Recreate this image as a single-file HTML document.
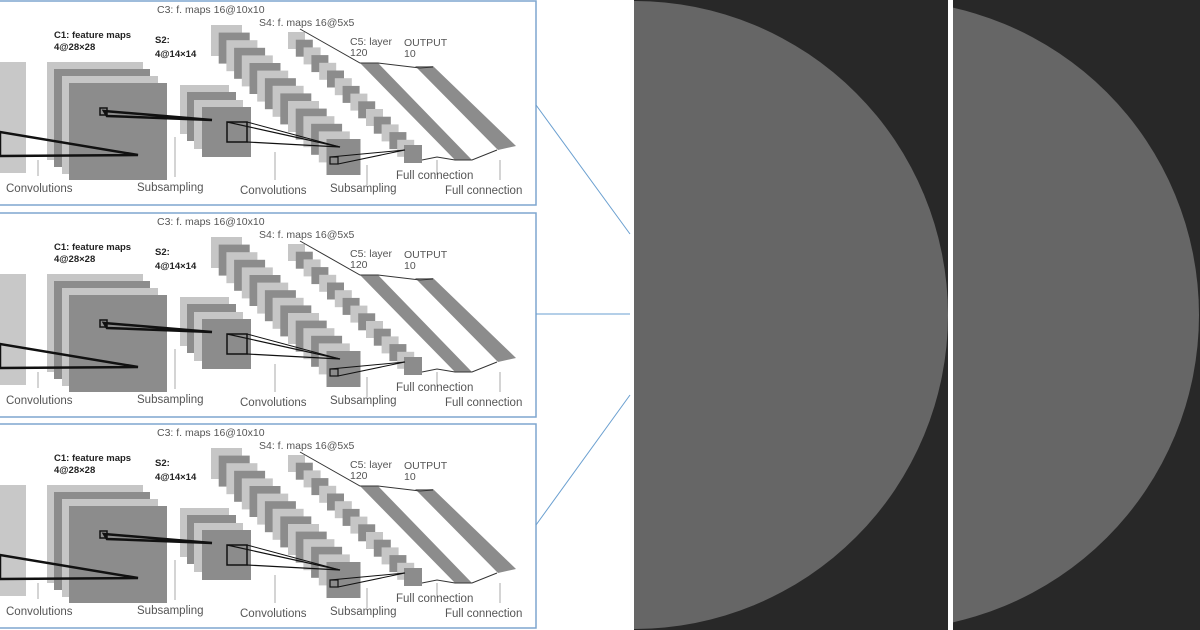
<!DOCTYPE html>
<html><head><meta charset="utf-8"><style>
html,body{margin:0;padding:0;background:#fff;}
svg{display:block;}
text{font-family:"Liberation Sans",sans-serif;fill:#555;}
.b{font-weight:bold;fill:#222;font-size:9.5px;}
.s{font-size:10.5px;}
.l{font-size:11.5px;}
</style></head><body>
<svg width="1200" height="630" viewBox="0 0 1200 630" xmlns="http://www.w3.org/2000/svg">
<defs>
<g id="net">
  <rect x="0" y="62" width="26" height="111" fill="#c8c8c8"/>
  <rect x="47" y="62" width="96" height="98" fill="#c6c6c6"/>
  <rect x="54" y="69" width="96" height="98" fill="#8c8c8c"/>
  <rect x="62" y="76" width="96" height="98" fill="#c6c6c6"/>
  <rect x="69" y="83" width="98" height="97" fill="#8c8c8c"/>
  <rect x="180" y="85" width="49" height="49" fill="#c6c6c6"/>
  <rect x="187" y="92" width="49" height="49" fill="#8c8c8c"/>
  <rect x="194" y="100" width="49" height="49" fill="#c6c6c6"/>
  <rect x="202" y="107" width="49" height="50" fill="#8c8c8c"/>
  <g>
  <rect x="211" y="25" width="31" height="31" fill="#c6c6c6"/>
  <rect x="218.7" y="32.6" width="31" height="31" fill="#8c8c8c"/>
  <rect x="226.4" y="40.2" width="31" height="31" fill="#c6c6c6"/>
  <rect x="234.1" y="47.8" width="31" height="31" fill="#8c8c8c"/>
  <rect x="241.8" y="55.4" width="31" height="31" fill="#c6c6c6"/>
  <rect x="249.5" y="63" width="31" height="31" fill="#8c8c8c"/>
  <rect x="257.2" y="70.6" width="31" height="31" fill="#c6c6c6"/>
  <rect x="264.9" y="78.2" width="31" height="31" fill="#8c8c8c"/>
  <rect x="272.6" y="85.8" width="31" height="31" fill="#c6c6c6"/>
  <rect x="280.3" y="93.4" width="31" height="31" fill="#8c8c8c"/>
  <rect x="288" y="101" width="31" height="31" fill="#c6c6c6"/>
  <rect x="295.7" y="108.6" width="31" height="31" fill="#8c8c8c"/>
  <rect x="303.4" y="116.2" width="31" height="31" fill="#c6c6c6"/>
  <rect x="311.1" y="123.8" width="31" height="31" fill="#8c8c8c"/>
  <rect x="318.8" y="131.4" width="31" height="31" fill="#c6c6c6"/>
  <rect x="326.5" y="139" width="34" height="36" fill="#8c8c8c"/>
  </g>
  <g>
  <rect x="288" y="32" width="17" height="17" fill="#c6c6c6"/>
  <rect x="295.8" y="39.7" width="17" height="17" fill="#8c8c8c"/>
  <rect x="303.6" y="47.4" width="17" height="17" fill="#c6c6c6"/>
  <rect x="311.4" y="55.1" width="17" height="17" fill="#8c8c8c"/>
  <rect x="319.2" y="62.8" width="17" height="17" fill="#c6c6c6"/>
  <rect x="327" y="70.5" width="17" height="17" fill="#8c8c8c"/>
  <rect x="334.8" y="78.2" width="17" height="17" fill="#c6c6c6"/>
  <rect x="342.6" y="85.9" width="17" height="17" fill="#8c8c8c"/>
  <rect x="350.4" y="93.6" width="17" height="17" fill="#c6c6c6"/>
  <rect x="358.2" y="101.3" width="17" height="17" fill="#8c8c8c"/>
  <rect x="366" y="109" width="17" height="17" fill="#c6c6c6"/>
  <rect x="373.8" y="116.7" width="17" height="17" fill="#8c8c8c"/>
  <rect x="381.6" y="124.4" width="17" height="17" fill="#c6c6c6"/>
  <rect x="389.4" y="132.1" width="17" height="17" fill="#8c8c8c"/>
  <rect x="397.2" y="139.8" width="17" height="17" fill="#c6c6c6"/>
  <rect x="404" y="145" width="18" height="18" fill="#8c8c8c"/>
  </g>
  <polygon points="360,63 378,63 472,160 455,160" fill="#8c8c8c"/>
  <polygon points="415,66 433,66 516,146 498,150" fill="#8c8c8c"/>
  <polyline points="300,29 360,63 378,63 420,68 433,67" fill="none" stroke="#333" stroke-width="1"/>
  <polyline points="422,160 437,157 455,160 472,160 497,150" fill="none" stroke="#333" stroke-width="1"/>
  <polygon points="0,132 0,156 138,155" fill="none" stroke="#111" stroke-width="2.5"/>
  <rect x="100" y="108" width="7" height="7" fill="none" stroke="#111" stroke-width="1.5"/>
  <polygon points="104,111 212,120 107,116" fill="none" stroke="#111" stroke-width="2.5"/>
  <rect x="227" y="122" width="20" height="20" fill="none" stroke="#111" stroke-width="1.5"/>
  <polyline points="227,122 340,147 247,142" fill="none" stroke="#111" stroke-width="1.2"/>
  <line x1="247" y1="122" x2="340" y2="147" stroke="#111" stroke-width="1"/>
  <rect x="330" y="157" width="8" height="7" fill="none" stroke="#111" stroke-width="1.2"/>
  <polyline points="330,157 405,150 338,164" fill="none" stroke="#111" stroke-width="1"/>
  <g stroke="#aaa" stroke-width="1">
  <line x1="38" y1="160" x2="38" y2="176"/>
  <line x1="175" y1="137" x2="175" y2="177"/>
  <line x1="275" y1="152" x2="275" y2="180"/>
  <line x1="367" y1="165" x2="367" y2="185"/>
  <line x1="437" y1="160" x2="437" y2="175"/>
  <line x1="500" y1="160" x2="500" y2="180"/>
  </g>
  <rect x="-1" y="1" width="537" height="204" fill="none" stroke="#7ea6cf" stroke-width="1.5"/>
</g>
</defs>
<rect x="0" y="0" width="1200" height="630" fill="#fff"/>
<use href="#net" x="0" y="0"/>
<use href="#net" x="0" y="212"/>
<use href="#net" x="0" y="423"/>

<g>
<text class="b" x="54" y="38">C1: feature maps</text><text class="b" x="54" y="50">4@28×28</text>
<text class="b" x="155" y="43">S2:</text><text class="b" x="155" y="57">4@14×14</text>
<text class="s" x="157" y="13">C3: f. maps 16@10x10</text>
<text class="s" x="259" y="26">S4: f. maps 16@5x5</text>
<text class="s" x="350" y="45">C5: layer</text><text class="s" x="350" y="56">120</text>
<text class="s" x="404" y="46">OUTPUT</text><text class="s" x="404" y="57">10</text>
<text class="l" x="6" y="192">Convolutions</text>
<text class="l" x="137" y="191">Subsampling</text>
<text class="l" x="240" y="194">Convolutions</text>
<text class="l" x="330" y="192">Subsampling</text>
<text class="l" x="396" y="179">Full connection</text>
<text class="l" x="445" y="194">Full connection</text>
</g>
<g transform="translate(0,212)">
<text class="b" x="54" y="38">C1: feature maps</text><text class="b" x="54" y="50">4@28×28</text>
<text class="b" x="155" y="43">S2:</text><text class="b" x="155" y="57">4@14×14</text>
<text class="s" x="157" y="13">C3: f. maps 16@10x10</text>
<text class="s" x="259" y="26">S4: f. maps 16@5x5</text>
<text class="s" x="350" y="45">C5: layer</text><text class="s" x="350" y="56">120</text>
<text class="s" x="404" y="46">OUTPUT</text><text class="s" x="404" y="57">10</text>
<text class="l" x="6" y="192">Convolutions</text>
<text class="l" x="137" y="191">Subsampling</text>
<text class="l" x="240" y="194">Convolutions</text>
<text class="l" x="330" y="192">Subsampling</text>
<text class="l" x="396" y="179">Full connection</text>
<text class="l" x="445" y="194">Full connection</text>
</g>
<g transform="translate(0,423)">
<text class="b" x="54" y="38">C1: feature maps</text><text class="b" x="54" y="50">4@28×28</text>
<text class="b" x="155" y="43">S2:</text><text class="b" x="155" y="57">4@14×14</text>
<text class="s" x="157" y="13">C3: f. maps 16@10x10</text>
<text class="s" x="259" y="26">S4: f. maps 16@5x5</text>
<text class="s" x="350" y="45">C5: layer</text><text class="s" x="350" y="56">120</text>
<text class="s" x="404" y="46">OUTPUT</text><text class="s" x="404" y="57">10</text>
<text class="l" x="6" y="192">Convolutions</text>
<text class="l" x="137" y="191">Subsampling</text>
<text class="l" x="240" y="194">Convolutions</text>
<text class="l" x="330" y="192">Subsampling</text>
<text class="l" x="396" y="179">Full connection</text>
<text class="l" x="445" y="194">Full connection</text>
</g>

<g stroke="#6a9fd0" stroke-width="1" fill="none">
<line x1="536" y1="105" x2="630" y2="234"/>
<line x1="536" y1="314" x2="630" y2="314"/>
<line x1="536" y1="525" x2="630" y2="395"/>
</g>

<rect x="634" y="0" width="314" height="630" fill="#282828"/>
<clipPath id="c1"><rect x="634" y="0" width="314" height="630"/></clipPath>
<ellipse cx="634" cy="315" rx="314" ry="314" fill="#666" clip-path="url(#c1)"/>
<rect x="953" y="0" width="247" height="630" fill="#282828"/>
<clipPath id="c2"><rect x="953" y="0" width="247" height="630"/></clipPath>
<circle cx="884" cy="315" r="315" fill="#666" clip-path="url(#c2)"/>
</svg>
</body></html>
